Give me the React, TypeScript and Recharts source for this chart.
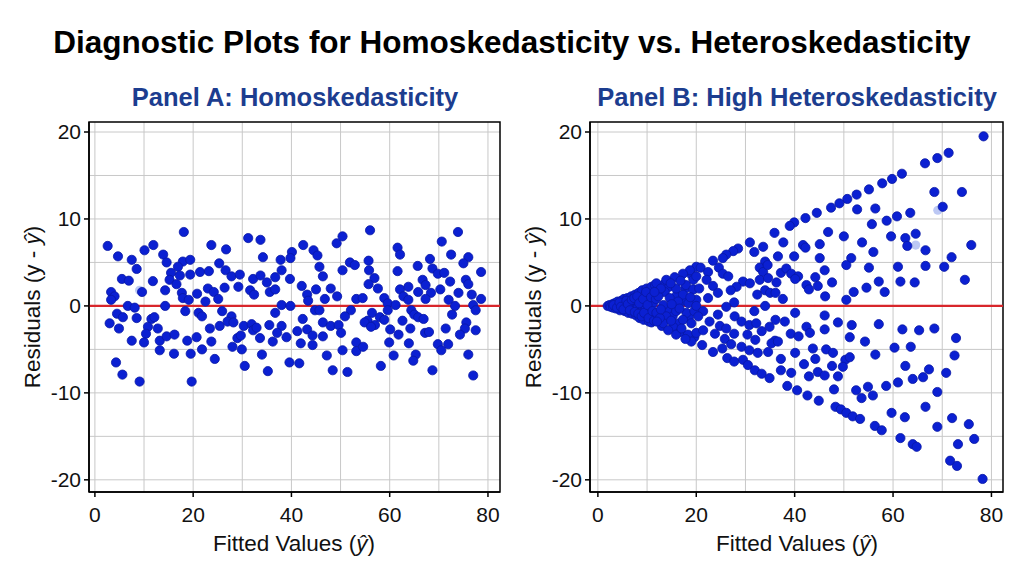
import React from 'react';
import {
  ScatterChart,
  Scatter,
  XAxis,
  YAxis,
  CartesianGrid,
  ReferenceLine,
  ReferenceArea,
} from 'recharts';

type Pt = [number, number];

// Panel A: residuals with constant spread around zero
const panelAPoints: Pt[] = [
  [18.1, 8.5], [2.6, 6.9], [11.9, 7.0], [4.7, 5.7], [10.1, 6.4], [13.9, 5.9], [7.5, 5.3], [14.6, 5.0],
  [8.5, 4.25], [17.9, 5.1], [19.4, 5.3], [23.7, 7.0], [26.7, 6.5], [25.3, 4.9], [16.9, 4.5], [15.5, 3.8],
  [19.4, 3.6], [21.4, 3.9], [23.2, 4.0], [26.6, 4.1], [5.5, 3.1], [6.9, 2.9], [11.8, 2.85], [15.2, 3.0],
  [16.6, 2.5], [17.3, 3.5], [3.3, 1.6], [4.0, 1.1], [3.3, 0.7], [9.6, 1.6], [14.3, 1.8], [17.7, 1.5],
  [17.9, 0.9], [19.1, 0.7], [20.8, 1.4], [23.0, 2.0], [24.2, 1.6], [25.1, 0.8], [22.5, 0.5], [26.4, 2.1],
  [6.7, 0.0], [8.1, -0.2], [14.3, 0.0], [18.4, -0.6], [4.5, -0.9], [5.7, -1.3], [8.5, -1.4], [21.1, -0.8],
  [21.8, -1.2], [25.9, -0.6], [3.0, -2.0], [4.9, -2.6], [11.5, -1.5], [12.1, -1.3], [10.8, -2.4], [12.8, -2.6],
  [10.4, -3.2], [7.5, -4.0], [10.0, -4.2], [13.2, -4.0], [14.6, -3.5], [16.2, -3.3], [18.8, -4.0], [20.7, -3.6],
  [23.7, -4.1], [23.4, -2.6], [25.4, -2.3], [13.2, -5.1], [16.1, -5.5], [19.5, -5.5], [21.8, -5.0], [24.4, -6.1],
  [4.3, -6.5], [5.6, -7.9], [9.1, -8.7], [19.7, -8.7],
  [31.2, 7.8], [33.7, 7.6], [34.2, 5.6], [37.8, 5.3], [40.1, 6.2], [39.8, 5.5], [42.4, 7.0], [44.5, 6.4],
  [45.3, 5.8], [49.2, 7.2], [50.4, 8.0], [51.9, 5.0], [52.9, 4.7], [50.4, 4.1], [27.8, 3.4], [29.5, 3.6],
  [32.2, 3.1], [33.7, 3.5], [35.0, 2.7], [36.7, 3.3], [38.0, 4.1], [39.7, 3.1], [45.7, 4.5], [46.4, 3.4],
  [29.2, 2.2], [31.6, 1.8], [32.4, 1.3], [35.6, 1.6], [36.7, 1.9], [42.1, 2.3], [43.2, 1.3], [43.4, 0.6],
  [45.0, 1.9], [46.8, 0.8], [48.0, 2.0], [49.3, 1.1], [53.2, 0.8], [38.0, 0.1], [39.8, 0.0], [36.7, -0.8],
  [44.8, -0.5], [45.7, -0.5], [52.1, -0.5], [50.9, -1.2], [27.8, -1.2], [27.0, -1.8], [28.2, -1.9], [30.3, -2.3],
  [31.9, -2.1], [32.2, -2.8], [32.9, -2.5], [35.5, -2.2], [38.0, -2.3], [37.1, -3.1], [39.0, -3.6], [41.2, -2.9],
  [42.3, -1.5], [43.2, -2.7], [44.3, -3.4], [44.3, -4.5], [41.9, -4.3], [46.4, -3.5], [46.4, -1.9], [48.0, -2.3],
  [49.6, -2.2], [50.1, -3.1], [29.0, -3.7], [29.7, -3.4], [28.0, -4.7], [29.9, -5.0], [33.6, -3.7], [36.2, -4.1],
  [34.0, -5.6], [30.5, -6.9], [35.2, -7.5], [39.6, -6.5], [41.6, -6.6], [47.2, -5.7], [48.4, -7.4], [50.4, -5.1],
  [51.4, -7.6], [53.2, -4.2], [53.2, -5.2],
  [56.0, 8.7], [73.9, 8.5], [70.6, 7.4], [61.6, 6.7], [62.1, 5.9], [72.5, 5.9], [76.0, 5.6], [75.0, 4.9],
  [68.2, 5.4], [55.7, 5.2], [55.8, 4.1], [61.6, 4.0], [65.7, 4.6], [68.7, 4.3], [69.8, 3.7], [71.1, 3.8],
  [78.6, 3.9], [56.9, 3.2], [55.7, 2.5], [57.6, 2.0], [66.7, 3.0], [67.3, 2.4], [72.3, 2.8], [75.5, 3.0],
  [76.0, 2.5], [62.1, 1.9], [63.8, 2.2], [65.8, 1.6], [68.4, 1.5], [70.3, 1.9], [74.0, 1.5], [76.7, 1.3],
  [62.8, 1.1], [63.8, 0.7], [67.3, 0.8], [72.0, 0.7], [78.6, 0.8], [58.9, 0.9], [59.6, 0.3], [61.2, 0.1],
  [54.5, 0.9], [59.6, -0.5], [64.4, -0.5], [73.3, 0.0], [77.0, 0.1], [77.5, -0.5], [72.7, -1.0], [56.4, -0.8],
  [55.5, -1.7], [54.9, -1.9], [58.0, -1.3], [58.9, -1.6], [57.0, -2.2], [56.2, -2.4], [65.0, -1.0], [65.8, -1.3],
  [66.9, -1.5], [62.6, -1.7], [60.1, -2.7], [64.2, -2.6], [67.2, -3.1], [68.0, -3.0], [71.4, -2.6], [75.6, -1.9],
  [75.3, -2.6], [74.3, -3.3], [77.5, -2.8], [61.8, -3.3], [59.9, -4.2], [63.9, -4.3], [69.8, -4.4], [70.5, -5.1],
  [71.9, -4.4], [54.6, -4.7], [60.8, -5.7], [65.3, -5.6], [64.8, -6.3], [58.2, -6.9], [68.7, -7.4], [76.0, -5.6],
  [77.0, -8.0],
];
const panelAFaded: Pt[] = [[9.1, 1.8]];

// Panel B: residual spread widening with the fitted value
const panelBPoints: Pt[] = [
  [2.0, 0.0], [2.4, 0.1], [2.6, -0.1], [3.0, 0.2], [3.1, -0.2], [3.4, 0.3], [3.5, 0.0], [3.7, -0.3],
  [4.0, 0.5], [4.1, -0.1], [4.3, 0.2], [4.5, -0.5], [4.8, 0.6], [4.9, -0.3], [5.0, 0.1], [5.3, 0.8],
  [5.5, -0.6], [5.6, 0.3], [5.9, -0.2], [6.0, 0.9], [6.2, -0.8], [6.4, 0.5], [6.6, 0.0], [6.8, 1.1],
  [7.0, -0.9], [7.1, 0.4], [7.3, -0.4], [7.6, 1.3], [7.8, -1.1], [7.9, 0.7], [8.1, -0.2], [8.3, 1.5],
  [8.5, -1.4], [8.6, 0.9], [8.8, -0.7], [9.0, 1.8], [9.1, 0.2], [9.3, -1.6], [9.5, 1.2], [9.7, -0.4],
  [9.9, 2.0], [10.0, -1.0], [10.2, 0.6], [10.4, -1.8], [10.5, 1.5], [10.7, -0.1], [10.9, 2.2], [11.0, -1.3],
  [11.2, 0.3], [10.9, -1.9], [11.6, 2.4],
  [3.2, 0.1], [3.9, -0.2], [4.4, 0.4], [4.7, -0.1], [5.2, -0.4], [5.8, 0.6], [6.1, 0.2], [6.5, -0.5],
  [6.9, 0.7], [7.4, 0.9], [7.5, -0.7], [8.0, 1.1], [8.2, -0.9], [8.4, 0.3], [8.9, -1.2], [9.2, 0.8],
  [9.4, -0.8], [9.8, 1.6], [10.1, 0.1], [10.3, -1.4], [10.8, 1.0], [11.1, -0.6], [11.4, -1.7], [11.8, 0.8],
  [12.2, -1.1], [12.4, 1.7], [13.0, -2.3], [13.5, 2.5], [14.2, -0.4], [14.5, 2.2], [15.2, -1.2], [16.0, 1.2],
  [16.5, -2.0], [17.5, 0.6], [18.5, -1.3], [19.0, 3.6], [19.6, -3.6], [17.8, 2.0],
  [20.0, 4.5], [18.7, 4.1], [17.3, 3.7], [15.6, 3.3], [13.9, 3.0], [11.9, 2.6], [19.4, 3.0], [17.9, 2.4],
  [15.9, 2.0], [13.6, 1.6], [19.4, 1.9], [17.3, 1.3], [14.6, 0.9], [12.3, 1.1], [20.0, 0.7], [18.4, 0.3],
  [16.3, 0.5], [13.3, 0.1], [11.9, -0.8], [13.9, -1.2], [15.9, -0.6], [18.0, -0.8], [19.6, -0.6], [13.3, -2.0],
  [15.3, -2.4], [17.3, -1.6], [19.0, -2.0], [16.7, -3.0], [14.3, -2.8], [18.3, -3.3], [20.0, -3.1], [19.0, -4.1],
  [12.6, -1.4], [15.9, -3.3], [12.8, 2.0], [14.8, 2.6], [16.8, 2.9], [12.0, -1.8], [14.9, -1.7], [17.0, -2.6],
  [18.8, 1.0], [16.6, -0.3], [15.0, 0.2], [12.8, -0.4], [17.8, -3.8], [11.5, 1.6],
  [30.9, 7.3], [33.6, 6.8], [31.8, 6.2], [28.5, 6.6], [27.5, 6.3], [26.1, 5.9], [25.4, 5.5], [23.4, 5.2],
  [34.0, 5.1], [20.9, 4.4], [24.6, 4.4], [22.4, 3.9], [25.4, 3.7], [26.5, 3.4], [20.0, 3.4], [32.9, 4.4],
  [33.6, 3.9], [29.5, 2.8], [30.9, 2.6], [32.9, 3.0], [28.2, 2.2], [27.0, 1.8], [22.1, 3.0], [23.4, 2.3],
  [20.6, 2.0], [24.4, 1.5], [22.4, 0.9], [32.4, 1.3], [34.0, 1.8], [27.7, 0.4], [20.0, 0.0], [26.1, -0.1],
  [34.0, 0.0], [31.8, -0.6], [21.4, -0.6], [20.4, -1.2], [24.4, -1.0], [27.8, -1.2], [29.2, -1.8], [30.8, -2.2],
  [32.2, -2.0], [22.7, -1.8], [24.8, -2.3], [26.1, -2.6], [21.4, -2.8], [23.8, -3.2], [27.7, -3.2], [30.4, -3.3],
  [33.3, -2.9], [32.0, -3.9], [25.8, -3.8], [27.1, -4.4], [21.2, -4.5], [23.4, -5.3], [25.3, -4.9], [29.2, -4.7],
  [30.8, -5.1], [32.5, -5.4], [26.3, -6.0], [27.7, -6.4], [29.5, -6.2], [30.5, -6.8], [31.9, -7.4], [33.3, -7.8],
  [52.6, 12.8], [50.7, 12.3], [49.1, 11.8], [47.4, 11.3], [52.7, 11.1], [44.5, 10.7], [42.2, 10.1], [39.9, 9.6],
  [39.0, 9.2], [35.9, 8.4], [46.8, 8.5], [50.0, 8.0], [53.7, 7.3], [37.7, 7.3], [41.7, 7.0], [42.2, 6.7],
  [45.1, 7.1], [36.6, 5.7], [39.9, 5.7], [45.1, 5.5], [51.5, 5.5], [50.5, 4.7], [34.5, 4.7], [37.2, 3.8],
  [38.3, 4.3], [39.3, 3.7], [40.7, 3.4], [40.1, 3.1], [46.1, 4.1], [44.2, 3.3], [42.4, 2.4], [42.9, 1.9],
  [44.7, 2.3], [47.6, 2.7], [52.0, 1.6], [34.6, 3.2], [36.3, 2.7], [35.0, 1.5], [36.1, 1.5], [37.6, 0.8],
  [46.2, 1.1], [50.5, 0.7], [40.1, -0.8], [46.1, -1.1], [36.1, -1.6], [38.0, -1.8], [34.9, -2.4], [48.8, -1.9],
  [42.4, -2.4], [43.1, -3.1], [46.1, -2.7], [51.6, -2.2], [39.2, -3.2], [40.8, -3.5], [51.2, -3.6], [36.0, -4.0],
  [35.3, -4.3], [36.6, -4.1], [43.7, -4.9], [46.4, -5.0], [47.8, -5.4], [34.6, -5.3], [40.1, -5.4], [37.2, -6.1],
  [44.2, -6.1], [50.3, -6.2], [51.2, -5.9], [49.8, -7.0], [41.9, -6.7], [47.6, -6.9], [37.2, -7.4], [39.3, -7.7],
  [44.7, -7.6], [46.1, -8.0], [42.9, -8.1], [48.8, -8.1], [34.9, -8.3], [38.5, -9.2], [40.5, -9.7], [42.6, -10.3],
  [44.9, -10.9], [48.0, -9.6], [52.5, -9.7], [48.3, -11.6], [49.4, -11.9], [50.5, -12.3], [51.8, -12.7], [53.3, -13.0],
  [53.6, -10.6],
  [78.4, 19.5], [71.3, 17.6], [69.0, 17.0], [66.5, 16.4], [61.8, 15.2], [59.8, 14.6], [57.8, 14.1], [55.1, 13.4],
  [68.4, 13.1], [74.0, 13.1], [70.1, 11.4], [56.4, 11.2], [63.5, 10.7], [60.8, 10.3], [58.7, 9.8], [55.7, 9.4],
  [64.6, 8.3], [59.6, 8.0], [62.5, 7.8], [62.9, 6.9], [75.9, 7.0], [56.0, 6.2], [66.6, 6.4], [71.9, 5.6],
  [55.1, 4.4], [61.0, 4.5], [66.6, 4.6], [70.4, 4.5], [54.6, 2.1], [57.1, 2.8], [58.3, 1.6], [61.5, 2.8],
  [64.4, 2.7], [74.6, 3.0], [57.1, -2.1], [61.9, -2.7], [65.3, -2.8], [68.4, -2.6], [72.8, -3.7], [54.3, -4.1],
  [60.3, -4.8], [63.6, -4.7], [56.4, -5.6], [72.5, -5.7], [62.5, -6.9], [67.3, -7.3], [70.8, -7.7], [64.0, -8.4],
  [66.1, -8.2], [61.0, -8.8], [58.6, -9.2], [54.9, -9.3], [55.9, -10.3], [69.0, -9.9], [66.6, -11.6], [59.7, -12.3],
  [62.4, -12.8], [72.0, -12.9], [56.3, -13.8], [57.7, -14.3], [69.0, -13.9], [75.4, -13.6], [61.5, -15.2], [64.0, -15.9],
  [64.8, -16.2], [73.2, -15.9], [76.5, -15.3], [71.6, -17.8], [73.0, -18.4], [78.2, -19.9],
];
const panelBFaded: Pt[] = [[69.1, 11.0], [64.6, 7.0]];

const xTicks = [0, 20, 40, 60, 80];
const yTicks = [-20, -10, 0, 10, 20];
const xGridValues = [0, 10, 20, 30, 40, 50, 60, 70, 80];
const yGridValues = [-20, -15, -10, -5, 0, 5, 10, 15, 20];
const yDomain: [number, number] = [-21.4, 21.15];

const FONT = '"Liberation Sans", Arial, Helvetica, sans-serif';
const DOT_FILL = '#0b20d2';
const DOT_STROKE = '#0918a4';

const toRows = (pts: Pt[]) => pts.map(([x, y]) => ({ x, y }));

const Dot = (props: any) => (
  <circle cx={props.cx} cy={props.cy} r={4.6} fill={DOT_FILL} stroke={DOT_STROKE} strokeWidth={0.8} />
);
const FadedDot = (props: any) => (
  <circle cx={props.cx} cy={props.cy} r={4.6} fill="#9fb0f0" fillOpacity={0.7} />
);

interface PanelProps {
  points: Pt[];
  faded: Pt[];
  left: number;
  yAxisWidth: number;
  rightMargin: number;
  xDomain: [number, number];
}

function Panel({ points, faded, left, yAxisWidth, rightMargin, xDomain }: PanelProps) {
  const tickStyle = { fill: '#111', fontSize: 21, fontFamily: FONT };
  return (
    <div style={{ position: 'absolute', left, top: 0 }}>
      <ScatterChart
        width={512}
        height={572}
        margin={{ top: 122, right: rightMargin, bottom: 0, left: 0 }}
      >
        <CartesianGrid
          stroke="#c8c8c8"
          strokeWidth={1}
          horizontalValues={yGridValues}
          verticalValues={xGridValues}
        />
        <XAxis
          type="number"
          dataKey="x"
          domain={xDomain}
          ticks={xTicks}
          interval={0}
          allowDataOverflow
          height={80}
          tickSize={5}
          tickMargin={10}
          tick={tickStyle}
          axisLine={{ stroke: '#000', strokeWidth: 1.5 }}
          tickLine={{ stroke: '#000', strokeWidth: 1.5 }}
        />
        <YAxis
          type="number"
          dataKey="y"
          domain={yDomain}
          ticks={yTicks}
          interval={0}
          allowDataOverflow
          width={yAxisWidth}
          tickSize={5}
          tickMargin={3}
          tick={tickStyle}
          axisLine={{ stroke: '#000', strokeWidth: 1.5 }}
          tickLine={{ stroke: '#000', strokeWidth: 1.5 }}
        />
        <Scatter data={toRows(faded)} shape={FadedDot} isAnimationActive={false} />
        <Scatter data={toRows(points)} shape={Dot} isAnimationActive={false} />
        <ReferenceLine y={0} stroke="#d8262b" strokeWidth={2.2} />
        <ReferenceArea
          x1={xDomain[0]}
          x2={xDomain[1]}
          y1={yDomain[0]}
          y2={yDomain[1]}
          fill="none"
          fillOpacity={0}
          stroke="#000"
          strokeWidth={1.5}
        />
      </ScatterChart>
    </div>
  );
}

const Hat = () => <tspan fontStyle="italic">ŷ</tspan>;

export default function App() {
  return (
    <div
      style={{
        position: 'absolute',
        left: 0,
        top: 0,
        width: 1024,
        height: 572,
        background: '#fff',
        fontFamily: FONT,
        overflow: 'hidden',
      }}
    >
      <Panel
        points={panelAPoints}
        faded={panelAFaded}
        left={0}
        yAxisWidth={89}
        rightMargin={12}
        xDomain={[-1.2, 82.45]}
      />
      <Panel
        points={panelBPoints}
        faded={panelBFaded}
        left={512}
        yAxisWidth={78}
        rightMargin={21}
        xDomain={[-1.6, 82.35]}
      />
      <svg
        width={1024}
        height={572}
        style={{ position: 'absolute', left: 0, top: 0, pointerEvents: 'none' }}
        fontFamily={FONT}
      >
        <text x={512} y={53} textAnchor="middle" fontSize={31.5} fontWeight="bold" fill="#000">
          Diagnostic Plots for Homoskedasticity vs. Heteroskedasticity
        </text>
        <text x={295} y={106} textAnchor="middle" fontSize={25.5} fontWeight="bold" fill="#1c3d8f">
          Panel A: Homoskedasticity
        </text>
        <text x={797} y={106} textAnchor="middle" fontSize={25.5} fontWeight="bold" fill="#1c3d8f">
          Panel B: High Heteroskedasticity
        </text>
        <text x={294} y={551} textAnchor="middle" fontSize={22.5} fill="#111">
          Fitted Values (<Hat />)
        </text>
        <text x={797} y={551} textAnchor="middle" fontSize={22.5} fill="#111">
          Fitted Values (<Hat />)
        </text>
        <text
          transform="translate(40 307) rotate(-90)"
          textAnchor="middle"
          fontSize={22.5}
          fill="#111"
        >
          Residuals (y - <Hat />)
        </text>
        <text
          transform="translate(541 307) rotate(-90)"
          textAnchor="middle"
          fontSize={22.5}
          fill="#111"
        >
          Residuals (y - <Hat />)
        </text>
      </svg>
    </div>
  );
}
